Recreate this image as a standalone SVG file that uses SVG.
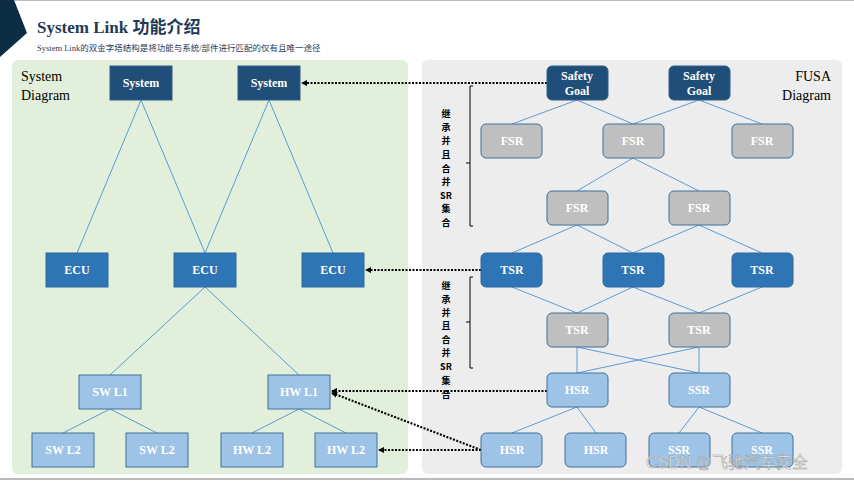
<svg xmlns="http://www.w3.org/2000/svg" width="854" height="481" viewBox="0 0 854 481">
<style>
.t{font-family:"Liberation Serif","Noto Sans CJK SC",serif;font-weight:bold;fill:#fff;font-size:12px;text-anchor:middle}
.dk{fill:#1f4e79;stroke:#2f5f8a}
.md{fill:#2e75b6;stroke:#2e6aa0}
.lt{fill:#9dc3e6;stroke:#41719c}
.gy{fill:#bfbfbf;stroke:#41719c}
.ln line{stroke:#5b9bd5;stroke-width:1}
.dot{stroke:#000;stroke-width:2;stroke-dasharray:2 1.5;fill:none;marker-end:url(#ar)}
.v{font-family:"Noto Sans CJK SC",sans-serif;font-weight:bold;font-size:9px;text-anchor:middle;fill:#000}
.lab{font-family:"Liberation Serif",serif;font-size:14px;fill:#000}
</style>
<defs><marker id="ar" markerWidth="6" markerHeight="6" refX="5" refY="3" orient="auto" markerUnits="userSpaceOnUse"><path d="M0,0L6,3L0,6z" fill="#000"/></marker></defs>
<rect width="854" height="481" fill="#fff"/>
<line x1="0" y1="0.5" x2="854" y2="0.5" stroke="#bbb"/>
<line x1="0" y1="479" x2="854" y2="479" stroke="#bbb" stroke-width="2"/>
<polygon points="0,0 14,0 27,33 0,57" fill="#0d2d45"/>
<text x="37" y="33" font-family="Liberation Serif,Noto Sans CJK SC,serif" font-weight="bold" font-size="17" fill="#1f3a57">System Link 功能介绍</text>
<text x="37" y="51" font-family="Liberation Serif,Noto Sans CJK SC,serif" font-size="8.5" fill="#1f3a57">System Link的双金字塔结构是将功能与系统/部件进行匹配的仅有且唯一途径</text>
<rect x="12" y="60" width="396" height="414" rx="6" fill="#e2efda"/>
<rect x="422" y="60" width="420" height="414" rx="6" fill="#ededed"/>
<text class="lab" x="21" y="81">System</text><text class="lab" x="21" y="100">Diagram</text>
<text class="lab" x="831" y="81" text-anchor="end">FUSA</text><text class="lab" x="831" y="100" text-anchor="end">Diagram</text>
<g class="ln" id="connectors">
<line x1="141" y1="100" x2="77" y2="253"/><line x1="141" y1="100" x2="205" y2="253"/>
<line x1="269" y1="100" x2="205" y2="253"/><line x1="269" y1="100" x2="333" y2="253"/>
<line x1="205" y1="287" x2="110" y2="375"/><line x1="205" y1="287" x2="299" y2="375"/>
<line x1="110" y1="409" x2="63" y2="433"/><line x1="110" y1="409" x2="157" y2="433"/>
<line x1="299" y1="409" x2="252" y2="433"/><line x1="299" y1="409" x2="346" y2="433"/>
<line x1="577" y1="100" x2="512" y2="124"/><line x1="577" y1="100" x2="633" y2="124"/>
<line x1="699" y1="100" x2="633" y2="124"/><line x1="699" y1="100" x2="762" y2="124"/>
<line x1="633" y1="158" x2="577" y2="191"/><line x1="633" y1="158" x2="699" y2="191"/>
<line x1="577" y1="225" x2="512" y2="253"/><line x1="577" y1="225" x2="633" y2="253"/>
<line x1="699" y1="225" x2="633" y2="253"/><line x1="699" y1="225" x2="762" y2="253"/>
<line x1="512" y1="287" x2="577" y2="313"/><line x1="633" y1="287" x2="577" y2="313"/>
<line x1="633" y1="287" x2="699" y2="313"/><line x1="762" y1="287" x2="699" y2="313"/>
<line x1="577" y1="347" x2="577" y2="373"/><line x1="577" y1="347" x2="699" y2="373"/>
<line x1="699" y1="347" x2="577" y2="373"/><line x1="699" y1="347" x2="699" y2="373"/>
<line x1="577" y1="407" x2="512" y2="433"/><line x1="577" y1="407" x2="596" y2="433"/>
<line x1="699" y1="407" x2="679" y2="433"/><line x1="699" y1="407" x2="762" y2="433"/>
<path class="dot" d="M547,83H302"/>
<path class="dot" d="M481,270H366"/>
<path class="dot" d="M547,391H332"/>
<path class="dot" d="M481,450L332,393"/>
<path class="dot" d="M481,450H379"/>
</g>
<g fill="none" stroke="#000" stroke-width="1">
<path d="M473,86H470V226H473M470,163H466"/>
<path d="M473,277H470V368H473M470,322H466"/>
</g>
<g class="v">
<text x="446" y="117">继</text><text x="446" y="131">承</text><text x="446" y="144">并</text><text x="446" y="158">且</text><text x="446" y="172">合</text><text x="446" y="185">并</text><text x="446" y="199">SR</text><text x="446" y="212">集</text><text x="446" y="226">合</text>
<text x="446" y="289">继</text><text x="446" y="303">承</text><text x="446" y="316">并</text><text x="446" y="329">且</text><text x="446" y="343">合</text><text x="446" y="356">并</text><text x="446" y="370">SR</text><text x="446" y="384">集</text><text x="446" y="398">合</text>
</g>
<g id="sys1"><rect class="dk" x="110" y="66" width="62" height="34"/><text class="t" x="141" y="87">System</text></g>
<g id="sys2"><rect class="dk" x="238" y="66" width="62" height="34"/><text class="t" x="269" y="87">System</text></g>
<g id="ecu1"><rect class="md" x="46" y="253" width="62" height="34"/><text class="t" x="77" y="274">ECU</text></g>
<g id="ecu2"><rect class="md" x="174" y="253" width="62" height="34"/><text class="t" x="205" y="274">ECU</text></g>
<g id="ecu3"><rect class="md" x="302" y="253" width="62" height="34"/><text class="t" x="333" y="274">ECU</text></g>
<g id="swl1"><rect class="lt" x="79" y="375" width="62" height="34"/><text class="t" x="110" y="396">SW L1</text></g>
<g id="hwl1"><rect class="lt" x="268" y="375" width="62" height="34"/><text class="t" x="299" y="396">HW L1</text></g>
<g id="swl2a"><rect class="lt" x="32" y="433" width="62" height="34"/><text class="t" x="63" y="454">SW L2</text></g>
<g id="swl2b"><rect class="lt" x="126" y="433" width="62" height="34"/><text class="t" x="157" y="454">SW L2</text></g>
<g id="hwl2a"><rect class="lt" x="221" y="433" width="62" height="34"/><text class="t" x="252" y="454">HW L2</text></g>
<g id="hwl2b"><rect class="lt" x="315" y="433" width="62" height="34"/><text class="t" x="346" y="454">HW L2</text></g>
<g id="sg1"><rect class="dk" x="547" y="66" width="61" height="34" rx="5"/><text class="t" x="577" y="80">Safety</text><text class="t" x="577" y="95">Goal</text></g>
<g id="sg2"><rect class="dk" x="669" y="66" width="61" height="34" rx="5"/><text class="t" x="699" y="80">Safety</text><text class="t" x="699" y="95">Goal</text></g>
<g id="fsr1"><rect class="gy" x="481" y="124" width="61" height="34" rx="5"/><text class="t" x="512" y="145">FSR</text></g>
<g id="fsr2"><rect class="gy" x="603" y="124" width="61" height="34" rx="5"/><text class="t" x="633" y="145">FSR</text></g>
<g id="fsr3"><rect class="gy" x="732" y="124" width="61" height="34" rx="5"/><text class="t" x="762" y="145">FSR</text></g>
<g id="fsr4"><rect class="gy" x="547" y="191" width="61" height="34" rx="5"/><text class="t" x="577" y="212">FSR</text></g>
<g id="fsr5"><rect class="gy" x="669" y="191" width="61" height="34" rx="5"/><text class="t" x="699" y="212">FSR</text></g>
<g id="tsr1"><rect class="md" x="481" y="253" width="61" height="34" rx="5"/><text class="t" x="512" y="274">TSR</text></g>
<g id="tsr2"><rect class="md" x="603" y="253" width="61" height="34" rx="5"/><text class="t" x="633" y="274">TSR</text></g>
<g id="tsr3"><rect class="md" x="732" y="253" width="61" height="34" rx="5"/><text class="t" x="762" y="274">TSR</text></g>
<g id="tsr4"><rect class="gy" x="547" y="313" width="61" height="34" rx="5"/><text class="t" x="577" y="334">TSR</text></g>
<g id="tsr5"><rect class="gy" x="669" y="313" width="61" height="34" rx="5"/><text class="t" x="699" y="334">TSR</text></g>
<g id="hsr1"><rect class="lt" x="547" y="373" width="61" height="34" rx="5"/><text class="t" x="577" y="394">HSR</text></g>
<g id="ssr1"><rect class="lt" x="669" y="373" width="61" height="34" rx="5"/><text class="t" x="699" y="394">SSR</text></g>
<g id="hsr2"><rect class="lt" x="481" y="433" width="61" height="34" rx="5"/><text class="t" x="512" y="454">HSR</text></g>
<g id="hsr3"><rect class="lt" x="565" y="433" width="61" height="34" rx="5"/><text class="t" x="596" y="454">HSR</text></g>
<g id="ssr2"><rect class="lt" x="649" y="433" width="61" height="34" rx="5"/><text class="t" x="679" y="454">SSR</text></g>
<g id="ssr3"><rect class="lt" x="732" y="433" width="61" height="34" rx="5"/><text class="t" x="762" y="454">SSR</text></g>
<text x="646" y="468" font-family="Liberation Sans,Noto Sans CJK SC,sans-serif" font-size="16" fill="#fff" fill-opacity="0.7" stroke="#999" stroke-width="0.5">CSDN @飞驰汽车安全</text>
</svg>
